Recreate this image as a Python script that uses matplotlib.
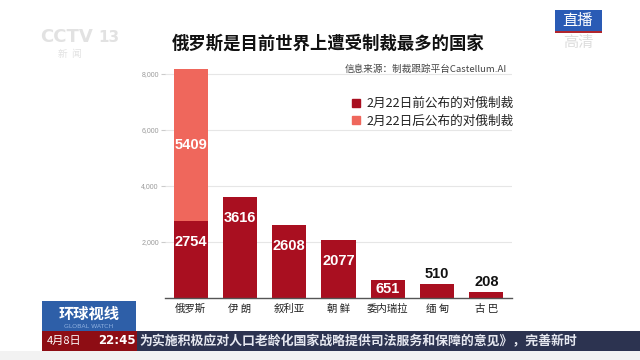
import matplotlib
matplotlib.use("Agg")
import matplotlib.pyplot as plt
from matplotlib.patches import Rectangle, Patch

plt.rcParams['font.family'] = ['Noto Sans CJK SC', 'DejaVu Sans']

categories = ['俄罗斯', '伊 朗', '叙利亚', '朝 鲜', '委内瑞拉', '缅 甸', '古 巴']
before_0222 = [2754, 3616, 2608, 2077, 651, 510, 208]
after_0222 = [5409, 0, 0, 0, 0, 0, 0]
yticks = [2000, 4000, 6000, 8000]
ytick_labels = ['2,000', '4,000', '6,000', '8,000']
legend_labels = ['2月22日前公布的对俄制裁', '2月22日后公布的对俄制裁']
title = '俄罗斯是目前世界上遭受制裁最多的国家'
source = '信息来源：制裁跟踪平台Castellum.AI'

DARK = '#A90F20'
LIGHT = '#EF675C'

W, H = 640, 360
fig = plt.figure(figsize=(6.4, 3.6), dpi=100)
fig.patch.set_facecolor('white')

def px(x0, y0, w, h):
    return [x0 / W, 1 - (y0 + h) / H, w / W, h / H]

ymax = 8200
ax_top = 298 - ymax * 0.028
ax = fig.add_axes(px(165, ax_top, 347, 298 - ax_top))
x = list(range(len(categories)))
ax.bar(x, before_0222, width=0.69, color=DARK, zorder=3)
ax.bar(x, after_0222, bottom=before_0222, width=0.69, color=LIGHT, zorder=3)
ax.set_xlim(-0.52, 6.52)
ax.set_ylim(0, ymax)
ax.set_yticks(yticks)
ax.set_yticklabels(ytick_labels, fontsize=5, color='#9a9a9a', family=['Liberation Sans'])
ax.tick_params(axis='y', length=3, color='#cccccc', pad=1.5)
ax.set_xticks(x)
ax.set_xticklabels(categories, fontsize=7.5, color='#222222')
ax.tick_params(axis='x', length=0, pad=4)
ax.grid(axis='y', color='#e6e6e6', lw=0.8, zorder=0)
for s in ['top', 'right', 'left']:
    ax.spines[s].set_visible(False)
ax.spines['bottom'].set_color('#555555')
ax.spines['bottom'].set_linewidth(1.0)
ax.spines['bottom'].set_zorder(4)

numfont = dict(family=['Liberation Sans'], fontweight='bold', fontsize=10.5)
for i, (b, a) in enumerate(zip(before_0222, after_0222)):
    if b > 1000:
        ax.annotate(str(b), (i, b), xytext=(0, -15), textcoords='offset points',
                    ha='center', va='center', color='white', zorder=5, **numfont)
    elif b > 600:
        ax.text(i, b / 2, str(b), ha='center', va='center', color='white', zorder=5, **numfont)
    else:
        ax.annotate(str(b), (i, b), xytext=(0, 7), textcoords='offset points',
                    ha='center', va='center', color='#111111', zorder=5, **numfont)
    if a > 0:
        ax.text(i, b + a / 2, str(a), ha='center', va='center', color='white', zorder=5, **numfont)

handles = [Patch(color=DARK), Patch(color=LIGHT)]
leg = fig.legend(handles, legend_labels, loc='upper left', bbox_to_anchor=(352 / W, 1 - 97 / H),
                 frameon=False, fontsize=9.1, handlelength=0.6, handleheight=0.6,
                 handletextpad=0.55, labelspacing=0.38, borderaxespad=0, borderpad=0)
for t in leg.get_texts():
    t.set_color('#222222')

fig.text(328 / W, 1 - 44 / H, title, ha='center', va='center', fontsize=12.5,
         fontweight='bold', color='#111111')
fig.text(507 / W, 1 - 69 / H, source, ha='right', va='center', fontsize=6.9, color='#444444')

# --- broadcast overlays ---
fig.text(40 / W, 1 - 37 / H, 'CCTV', ha='left', va='center', fontsize=13, fontweight='bold',
         color='#e2e2e2', family=['DejaVu Sans'])
fig.text(109 / W, 1 - 37 / H, '13', ha='center', va='center', fontsize=11, fontweight='bold',
         color='#e2e2e2', family=['DejaVu Sans'])
fig.text(70 / W, 1 - 54 / H, '新  闻', ha='center', va='center', fontsize=7, color='#e2e2e2')

fig.patches.append(Rectangle((555 / W, 1 - 31 / H), 47 / W, 21 / H, transform=fig.transFigure,
                             facecolor='#2a5bb5', edgecolor='none'))
fig.patches.append(Rectangle((555 / W, 1 - 33 / H), 47 / W, 2 / H, transform=fig.transFigure,
                             facecolor='#b0262e', edgecolor='none'))
fig.text(578 / W, 1 - 20.5 / H, '直播', ha='center', va='center', fontsize=11, color='white')
fig.text(578 / W, 1 - 42 / H, '高清', ha='center', va='center', fontsize=11, color='#dddddd')

fig.patches.append(Rectangle((42 / W, 1 - 331 / H), 94 / W, 30 / H, transform=fig.transFigure,
                             facecolor='#2e5fa8', edgecolor='none'))
fig.text(89 / W, 1 - 314 / H, '环球视线', ha='center', va='center', fontsize=11,
         fontweight='bold', color='white')
fig.text(89 / W, 1 - 327 / H, 'GLOBAL WATCH', ha='center', va='center', fontsize=4.5,
         color='#8fb0e0', family=['DejaVu Sans'])
fig.patches.append(Rectangle((42 / W, 1 - 351 / H), 95 / W, 20 / H, transform=fig.transFigure,
                             facecolor='#8e0d14', edgecolor='none'))
fig.patches.append(Rectangle((137 / W, 1 - 351 / H), 503 / W, 20 / H, transform=fig.transFigure,
                             facecolor='#2c3350', edgecolor='none'))
fig.patches.append(Rectangle((0, 0), 1, 9 / H, transform=fig.transFigure,
                             facecolor='#f2f2f2', edgecolor='none'))
fig.text(64 / W, 1 - 341 / H, '4月8日', ha='center', va='center', fontsize=8, color='white')
fig.text(117 / W, 1 - 341 / H, '22:45', ha='center', va='center', fontsize=8.5,
         fontweight='bold', color='white', family=['DejaVu Sans'])
fig.text(139 / W, 1 - 341 / H, '为实施积极应对人口老龄化国家战略提供司法服务和保障的意见》，完善新时',
         ha='left', va='center', fontsize=9.3, fontweight='bold', color='#e6e8f0', clip_on=False)

fig.savefig('out.png', dpi=100)
